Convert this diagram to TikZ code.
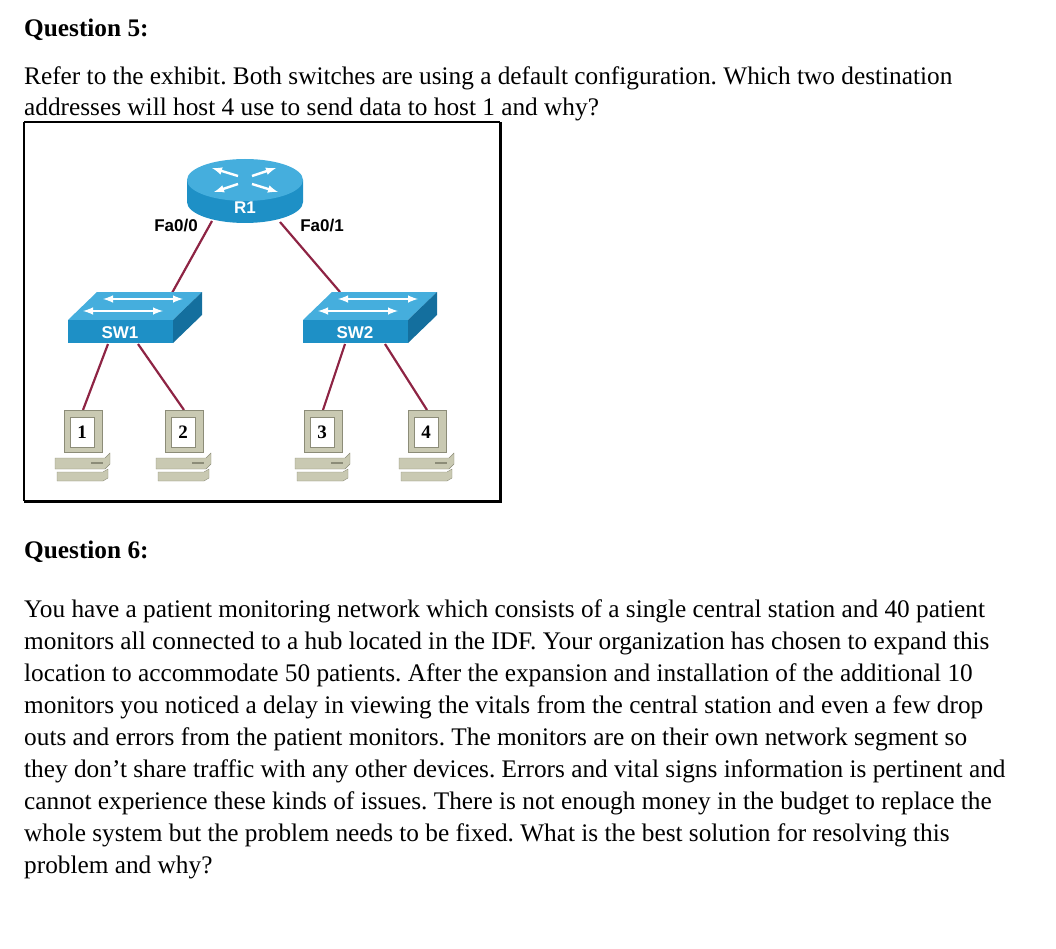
\documentclass[tikz,border=0pt]{standalone}
\usepackage{fontspec}
\setmainfont{Liberation Serif}
\newfontfamily\iconfont{Liberation Sans}
\usetikzlibrary{calc}
\frenchspacing
\definecolor{cable}{HTML}{8E2444}
\definecolor{ciscotop}{HTML}{45AEDD}
\definecolor{ciscofront}{HTML}{1E90C6}
\definecolor{ciscoside}{HTML}{146F9E}
\definecolor{pcbody}{HTML}{C9C9B2}
\definecolor{pcdark}{HTML}{8C8C78}
\tikzset{
  txt/.style={anchor=base west, inner sep=0pt, font=\fontsize{25.3}{32}\selectfont},
  head/.style={txt, font=\fontsize{25.3}{32}\selectfont\bfseries},
  lbl/.style={inner sep=0pt, font=\iconfont\fontsize{17}{17}\selectfont\bfseries},
  link/.style={cable, line width=2.2pt},
  arr/.style={white, line width=2.4pt, -latex}
}
% switch icon: #1 = front-left corner of top face
\newcommand{\swicon}[2]{%
  \fill[ciscotop] (#1) -- ++(29,-28) -- ++(105,0) -- ++(-29,28) -- cycle;
  \fill[ciscofront] (#1) rectangle ++(105,23);
  \fill[ciscoside] ($(#1)+(105,0)$) -- ++(29,-28) -- ++(0,23) -- ++(-29,28) -- cycle;
  \draw[arr] ($(#1)+(70,-21)$) -- ++(-35,0);
  \draw[arr] ($(#1)+(65,-21)$) -- ++(50,0);
  \draw[arr] ($(#1)+(55,-9)$) -- ++(-40,0);
  \draw[arr] ($(#1)+(50,-9)$) -- ++(45,0);
  \node[lbl, white] at ($(#1)+(52,13)$) {#2};
}
% pc icon: #1 = top centre of monitor
\newcommand{\pcicon}[2]{%
  \fill[pcbody, draw=pcdark] ($(#1)+(-19,0)$) rectangle ++(38,42);
  \fill[white, draw=pcdark] ($(#1)+(-13,7)$) rectangle ++(24,30);
  \node[inner sep=0pt, font=\fontsize{19}{19}\selectfont\bfseries] at ($(#1)+(-1,22)$) {#2};
  \fill[pcbody, draw=pcdark] ($(#1)+(-28,48)$) -- ++(50,0) -- ++(5,-5) -- ++(0,11) -- ++(-5,5) -- ++(-50,0) -- cycle;
  \draw[pcdark, line width=1.5pt] ($(#1)+(8,53)$) -- ++(12,0);
  \fill[pcbody, draw=pcdark] ($(#1)+(-26,62)$) -- ++(46,0) -- ++(5,-3) -- ++(0,9) -- ++(-5,3) -- ++(-46,0) -- cycle;
}
\begin{document}
\begin{tikzpicture}[x=1pt,y=-1pt]
  \useasboundingbox (0,0) rectangle (1056,949);
  % question 5
  \node[head] (q5) at (24,37) {Question 5:};
  \node[txt] (q5a) at (24,85) {Refer to the exhibit. Both switches are using a default configuration. Which two destination};
  \node[txt] (q5b) at (24,116) {addresses will host 4 use to send data to host 1 and why?};
  % exhibit frame
  \draw[line width=1.5pt] (24,122) -- (24,501);
  \draw[line width=1.5pt] (24,122) -- (500,122);
  \draw[line width=3pt] (500,122) -- (500,501) -- (24,501);
  % links
  \coordinate (r1a) at (212,221);
  \coordinate (r1b) at (280,222);
  \coordinate (sw1up) at (172,293);
  \coordinate (sw2up) at (340,292);
  \coordinate (sw1l) at (108,344);
  \coordinate (sw1r) at (138,344);
  \coordinate (sw2l) at (345,344);
  \coordinate (sw2r) at (385,344);
  \coordinate (pc1) at (83,410);
  \coordinate (pc2) at (184,410);
  \coordinate (pc3) at (323,410);
  \coordinate (pc4) at (427,410);
  \draw[link] (r1a) -- (sw1up);
  \draw[link] (r1b) -- (sw2up);
  \draw[link] (sw1l) -- (pc1);
  \draw[link] (sw1r) -- (pc2);
  \draw[link] (sw2l) -- (pc3);
  \draw[link] (sw2r) -- (pc4);
  % router
  \fill[ciscofront] (187,180) -- (187,202) arc[start angle=180, end angle=0, x radius=58, y radius=21] -- (303,180) -- cycle;
  \fill[ciscotop] (245,180) ellipse[x radius=58, y radius=21];
  \draw[arr] (238,176) -- ++(-26,-8);
  \draw[arr] (252,176) -- ++(24,-8);
  \draw[arr] (238,184) -- ++(-24,8);
  \draw[arr] (252,184) -- ++(26,8);
  \node[lbl, white] (r1) at (245,208) {R1};
  \node[lbl] (fa00) at (176,226) {Fa0/0};
  \node[lbl] (fa01) at (322,226) {Fa0/1};
  % switches
  \coordinate (sw1) at (68,320);
  \coordinate (sw2) at (303,320);
  \swicon{sw1}{SW1}
  \swicon{sw2}{SW2}
  % hosts
  \pcicon{pc1}{1}
  \pcicon{pc2}{2}
  \pcicon{pc3}{3}
  \pcicon{pc4}{4}
  % question 6
  \node[head] (q6) at (24,558) {Question 6:};
  \node[txt] (l1) at (24,617) {You have a patient monitoring network which consists of a single central station and 40 patient};
  \node[txt] (l2) at (24,649) {monitors all connected to a hub located in the IDF. Your organization has chosen to expand this};
  \node[txt] (l3) at (24,681) {location to accommodate 50 patients. After the expansion and installation of the additional 10};
  \node[txt] (l4) at (24,713) {monitors you noticed a delay in viewing the vitals from the central station and even a few drop};
  \node[txt] (l5) at (24,745) {outs and errors from the patient monitors. The monitors are on their own network segment so};
  \node[txt] (l6) at (24,777) {they don’t share traffic with any other devices. Errors and vital signs information is pertinent and};
  \node[txt] (l7) at (24,809) {cannot experience these kinds of issues. There is not enough money in the budget to replace the};
  \node[txt] (l8) at (24,841) {whole system but the problem needs to be fixed. What is the best solution for resolving this};
  \node[txt] (l9) at (24,873) {problem and why?};
\end{tikzpicture}
\end{document}
